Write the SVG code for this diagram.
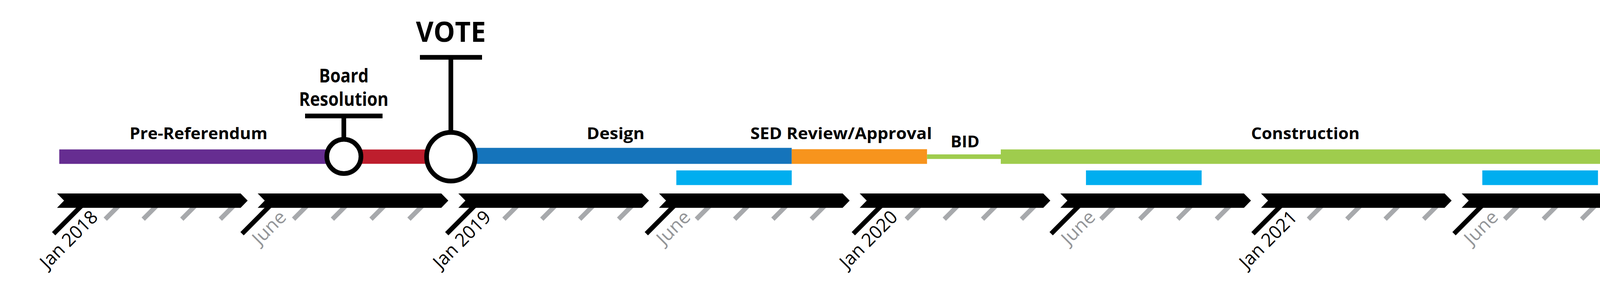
<svg xmlns="http://www.w3.org/2000/svg" xmlns:xlink="http://www.w3.org/1999/xlink" width="4658" height="742" viewBox="0 0 4658 742">
<style>
.lbl{font-family:"Open Sans","Liberation Sans",sans-serif;font-weight:700;fill:#000;text-anchor:middle}
.date{font-family:"Open Sans","Liberation Sans",sans-serif;font-weight:400;font-size:47px;text-anchor:end}
.jan{fill:#000}
.jun{fill:#939598}
.major{stroke:#000;stroke-width:12;fill:none}
.minor{stroke:#a7a9ac;stroke-width:12;fill:none}
.chev{fill:#000}
.ring{fill:#fff;stroke:#000;stroke-width:12}
</style>
<defs>
<path id="chev" d="M0,495 L470,495 L488,513.3 L470,531.7 L0,531.7 L18,513.3 Z"/>
<path id="chevShort" d="M0,495 L298,495 L316,513.3 L298,531.7 L0,531.7 L18,513.3 Z"/>
<path id="tMajor" d="M5,526.7 L-66,598"/>
<path id="tMinor" d="M5,526.7 L-29,560.7"/>
</defs>

<g id="ticks">
<g class="major">
<use xlink:href="#tMajor" x="203.3"/>
<use xlink:href="#tMajor" x="685.7"/>
<use xlink:href="#tMajor" x="1209.7"/>
<use xlink:href="#tMajor" x="1720.6"/>
<use xlink:href="#tMajor" x="2250.5"/>
<use xlink:href="#tMajor" x="2757"/>
<use xlink:href="#tMajor" x="3273.7"/>
<use xlink:href="#tMajor" x="3788.3"/>
<use xlink:href="#tMajor" x="4307.8"/>
</g>
<g class="minor">
<use xlink:href="#tMinor" x="298.5"/><use xlink:href="#tMinor" x="395.7"/><use xlink:href="#tMinor" x="494.4"/><use xlink:href="#tMinor" x="593"/>
<use xlink:href="#tMinor" x="780.6"/><use xlink:href="#tMinor" x="880"/><use xlink:href="#tMinor" x="978.8"/><use xlink:href="#tMinor" x="1076"/>
<use xlink:href="#tMinor" x="1319.1"/><use xlink:href="#tMinor" x="1416"/><use xlink:href="#tMinor" x="1513"/><use xlink:href="#tMinor" x="1612.7"/>
<use xlink:href="#tMinor" x="1811.7"/><use xlink:href="#tMinor" x="1909.7"/><use xlink:href="#tMinor" x="2007.6"/><use xlink:href="#tMinor" x="2106"/>
<use xlink:href="#tMinor" x="2349"/><use xlink:href="#tMinor" x="2446.4"/><use xlink:href="#tMinor" x="2544.4"/><use xlink:href="#tMinor" x="2643.9"/>
<use xlink:href="#tMinor" x="2847.4"/><use xlink:href="#tMinor" x="2947"/><use xlink:href="#tMinor" x="3044"/><use xlink:href="#tMinor" x="3142.9"/>
<use xlink:href="#tMinor" x="3378.6"/><use xlink:href="#tMinor" x="3477"/><use xlink:href="#tMinor" x="3575"/><use xlink:href="#tMinor" x="3673.6"/>
<use xlink:href="#tMinor" x="3881"/><use xlink:href="#tMinor" x="3980"/><use xlink:href="#tMinor" x="4078"/><use xlink:href="#tMinor" x="4177"/>
<use xlink:href="#tMinor" x="4406"/><use xlink:href="#tMinor" x="4504"/>
</g>
</g>

<g id="axis" class="chev">
<use xlink:href="#chev" x="146"/>
<use xlink:href="#chev" x="659.7"/>
<use xlink:href="#chev" x="1173.4"/>
<use xlink:href="#chev" x="1687.1"/>
<use xlink:href="#chev" x="2200.8"/>
<use xlink:href="#chev" x="2714.5"/>
<use xlink:href="#chev" x="3228.2"/>
<use xlink:href="#chev" x="3741.9"/>
<use xlink:href="#chevShort" x="4255.6"/>
</g>

<g id="dates">
<text class="date jan" transform="translate(253.3,558.5) rotate(-45)" textLength="186" lengthAdjust="spacingAndGlyphs">Jan 2018</text>
<text class="date jun" transform="translate(735.7,558.5) rotate(-45)" textLength="100" lengthAdjust="spacingAndGlyphs">June</text>
<text class="date jan" transform="translate(1259.7,558.5) rotate(-45)" textLength="186" lengthAdjust="spacingAndGlyphs">Jan 2019</text>
<text class="date jun" transform="translate(1770.6,558.5) rotate(-45)" textLength="100" lengthAdjust="spacingAndGlyphs">June</text>
<text class="date jan" transform="translate(2300.5,558.5) rotate(-45)" textLength="186" lengthAdjust="spacingAndGlyphs">Jan 2020</text>
<text class="date jun" transform="translate(2807,558.5) rotate(-45)" textLength="100" lengthAdjust="spacingAndGlyphs">June</text>
<text class="date jan" transform="translate(3323.7,558.5) rotate(-45)" textLength="186" lengthAdjust="spacingAndGlyphs">Jan 2021</text>
<text class="date jun" transform="translate(3838.3,558.5) rotate(-45)" textLength="100" lengthAdjust="spacingAndGlyphs">June</text>
<text class="date jan" transform="translate(4357.8,558.5) rotate(-45)" textLength="186" lengthAdjust="spacingAndGlyphs">Jan 2022</text>
</g>

<g id="phase-pre-referendum">
<rect x="151.7" y="382.3" width="728.3" height="37" fill="#662d91"/>
<text class="lbl" x="508.2" y="356" font-size="42" textLength="353" lengthAdjust="spacingAndGlyphs">Pre-Referendum</text>
</g>
<g id="phase-red">
<rect x="880" y="382.5" width="274" height="36.6" fill="#be1e2d"/>
</g>
<g id="phase-design">
<rect x="1154" y="378.3" width="872.8" height="41" fill="#1574bb"/>
<rect x="1731.4" y="436" width="295.4" height="37.5" fill="#00aeef"/>
<text class="lbl" x="1576" y="356" font-size="42" textLength="148" lengthAdjust="spacingAndGlyphs">Design</text>
</g>
<g id="phase-sed">
<rect x="2026.8" y="381.7" width="346.4" height="37.6" fill="#f7941d"/>
<text class="lbl" x="2153.4" y="355.5" font-size="42" textLength="465" lengthAdjust="spacingAndGlyphs">SED Review/Approval</text>
</g>
<g id="phase-bid">
<rect x="2373.2" y="395" width="188.8" height="11.7" fill="#9fcc4d"/>
<text class="lbl" x="2470.5" y="377.3" font-size="42" textLength="74" lengthAdjust="spacingAndGlyphs">BID</text>
</g>
<g id="phase-construction">
<rect x="2562" y="382.3" width="1639.7" height="37" fill="#9fcc4d"/>
<rect x="2780.1" y="436" width="296.1" height="37.5" fill="#00aeef"/>
<rect x="3794.7" y="436" width="296.1" height="37.5" fill="#00aeef"/>
<text class="lbl" x="3341.7" y="356" font-size="42" textLength="278" lengthAdjust="spacingAndGlyphs">Construction</text>
</g>

<g id="milestone-board">
<rect x="781" y="290.7" width="198.3" height="12" fill="#000"/>
<line x1="880.2" y1="300" x2="880.2" y2="370" stroke="#000" stroke-width="12"/>
<circle class="ring" cx="880.3" cy="400.3" r="43.7"/>
<text class="lbl" x="880.3" y="210.7" font-size="47.6" textLength="127" lengthAdjust="spacingAndGlyphs">Board</text>
<text class="lbl" x="880" y="270.7" font-size="47.6" textLength="229" lengthAdjust="spacingAndGlyphs">Resolution</text>
</g>
<g id="milestone-vote">
<rect x="1075" y="140.7" width="159" height="12" fill="#000"/>
<line x1="1154.2" y1="150" x2="1154.2" y2="350" stroke="#000" stroke-width="12"/>
<circle class="ring" cx="1154.3" cy="401" r="62.2"/>
<text class="lbl" x="1154.2" y="107.3" font-size="72" textLength="179" lengthAdjust="spacingAndGlyphs">VOTE</text>
</g>
</svg>
